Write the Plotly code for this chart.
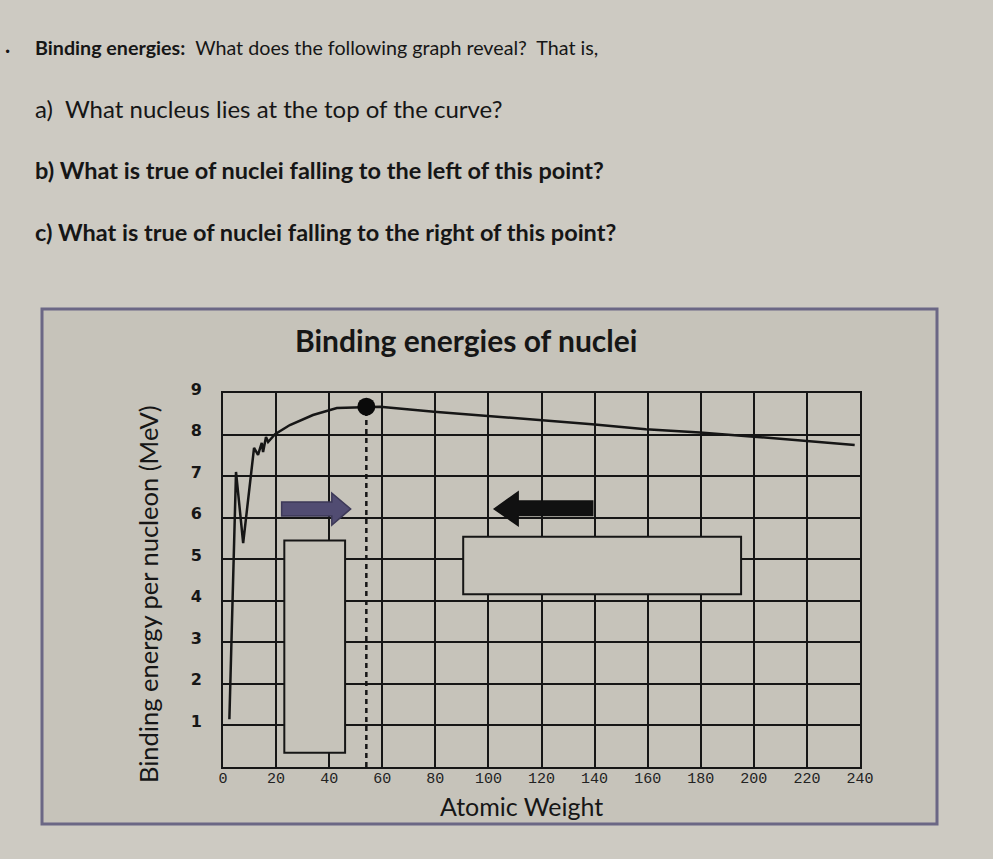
import plotly.graph_objects as go

# ---- data ----
atomic_weight = [2.4, 4.9, 7.6, 11.7, 13.2, 14.6, 15.1, 16.2, 17.0, 19.6, 25.2, 33.9, 42.9, 53.9,
                 59.2, 79.5, 99.4, 119.4, 139, 159.3, 179.7, 200, 220, 238]
binding_energy = [1.15, 7.10, 5.39, 7.68, 7.51, 7.80, 7.58, 7.94, 7.82, 8.01, 8.23, 8.47, 8.64, 8.67,
                  8.67, 8.55, 8.45, 8.35, 8.25, 8.13, 8.05, 7.95, 7.84, 7.75]
peak_x = [54]
peak_y = [8.67]
x_ticks = [0, 20, 40, 60, 80, 100, 120, 140, 160, 180, 200, 220, 240]
y_ticks = [1, 2, 3, 4, 5, 6, 7, 8, 9]

title = "Binding energies of nuclei"
x_title = "Atomic Weight"
y_title = "Binding energy per nucleon (MeV)"
questions = [
    "<b>Binding energies:</b>  What does the following graph reveal?  That is,",
    "a)  What nucleus lies at the top of the curve?",
    "<b>b) What is true of nuclei falling to the left of this point?</b>",
    "<b>c) What is true of nuclei falling to the right of this point?</b>",
]
question_sizes = [19.7, 24, 23.5, 23.5]

# answer boxes (data units) and arrows
left_box = dict(x0=23.1, x1=46.0, y0=0.34, y1=5.45)
right_box = dict(x0=90.5, x1=195.2, y0=4.16, y1=5.54)
right_arrow = [(22.1, 6.38), (41.0, 6.38), (41.0, 6.59), (48.1, 6.21), (41.0, 5.82), (41.0, 6.04), (22.1, 6.04)]
left_arrow = [(139.3, 6.40), (111.2, 6.40), (111.2, 6.62), (102.2, 6.21), (111.2, 5.81), (111.2, 6.05), (139.3, 6.05)]

# ---- layout geometry ----
W, H = 993, 859
L, R, T, B = 223, 860, 393, 767
PAGE = "#cdcac2"
BOX = "#c6c3ba"
INK = "#161616"


def px(x):
    return (x - L) / (R - L)


def py(y):
    return (B - y) / (B - T)


def path(pts):
    return "M " + " L ".join(f"{a},{b}" for a, b in pts) + " Z"


fig = go.Figure()
fig.add_trace(go.Scatter(x=atomic_weight, y=binding_energy, mode="lines",
                         line=dict(color=INK, width=2.5), hoverinfo="skip", showlegend=False))
fig.add_trace(go.Scatter(x=[peak_x[0], peak_x[0]], y=[0, peak_y[0]], mode="lines",
                         line=dict(color=INK, width=2.5, dash="5px,4px"), showlegend=False))
fig.add_trace(go.Scatter(x=peak_x, y=peak_y, mode="markers",
                         marker=dict(color="#0a0a0a", size=18), showlegend=False))

shapes = [
    dict(type="rect", xref="paper", yref="paper", x0=px(42), x1=px(937), y0=py(824), y1=py(309),
         fillcolor=BOX, line=dict(color="#6b6785", width=3), layer="below"),
    dict(type="rect", xref="x", yref="y", **left_box, fillcolor=BOX,
         line=dict(color=INK, width=2), layer="above"),
    dict(type="rect", xref="x", yref="y", **right_box, fillcolor=BOX,
         line=dict(color=INK, width=2), layer="above"),
    dict(type="path", xref="x", yref="y", path=path(right_arrow), fillcolor="#514c72",
         line=dict(color="#3d3958", width=1.5), layer="above"),
    dict(type="path", xref="x", yref="y", path=path(left_arrow), fillcolor="#111111",
         line=dict(color="#111111", width=1.5), layer="above"),
]

ann = []
qy = [47, 108, 170, 232]
for q, yy, sz in zip(questions, qy, question_sizes):
    ann.append(dict(text=q, x=px(33), y=py(yy), xref="paper", yref="paper", xanchor="left",
                    yanchor="middle", showarrow=False, font=dict(family="Lato", size=sz, color=INK)))
ann.append(dict(text="<b>.</b>", x=px(3), y=py(44), xref="paper", yref="paper", xanchor="left",
                yanchor="middle", showarrow=False, font=dict(family="Lato", size=22, color=INK)))
ann.append(dict(text=f"<b>{title}</b>", x=px(466), y=py(340), xref="paper", yref="paper",
                xanchor="center", yanchor="middle", showarrow=False,
                font=dict(family="Lato", size=30, color=INK)))
ann.append(dict(text=y_title, x=px(148), y=py(594), xref="paper", yref="paper", textangle=-90,
                xanchor="center", yanchor="middle", showarrow=False,
                font=dict(family="Lato", size=25.5, color=INK)))
ann.append(dict(text=x_title, x=px(521), y=py(806), xref="paper", yref="paper",
                xanchor="center", yanchor="middle", showarrow=False,
                font=dict(family="Lato", size=25, color=INK)))

fig.update_layout(
    width=W, height=H, autosize=False,
    margin=dict(l=L, r=W - R, t=T, b=H - B, pad=0),
    paper_bgcolor=PAGE, plot_bgcolor="rgba(0,0,0,0)",
    shapes=shapes, annotations=ann, showlegend=False,
)
fig.update_xaxes(range=[0, 240], tickvals=x_ticks, ticktext=[str(v) for v in x_ticks],
                 showgrid=True, gridcolor=INK, gridwidth=2, zeroline=False,
                 showline=True, mirror=True, linecolor=INK, linewidth=2, ticks="",
                 ticklabelstandoff=-4,
                 tickfont=dict(family="Liberation Mono, Courier New, Cousine, monospace",
                               size=15, color="#222"), fixedrange=True)
fig.update_yaxes(range=[0, 9], tickvals=y_ticks, ticktext=[f"<b>{v}</b>" for v in y_ticks],
                 showgrid=True, gridcolor=INK, gridwidth=2, zeroline=False,
                 showline=True, mirror=True, linecolor=INK, linewidth=2, ticks="",
                 ticklabelstandoff=16, ticklabelshift=-4,
                 tickfont=dict(family="DejaVu Sans", size=16, color=INK), fixedrange=True)

fig.write_html(
    "out.html",
    config={"displayModeBar": False, "staticPlot": True},
    post_script="document.body.style.margin='0';document.body.style.background='#cdcac2';"
                "document.documentElement.style.overflow='hidden';",
)
